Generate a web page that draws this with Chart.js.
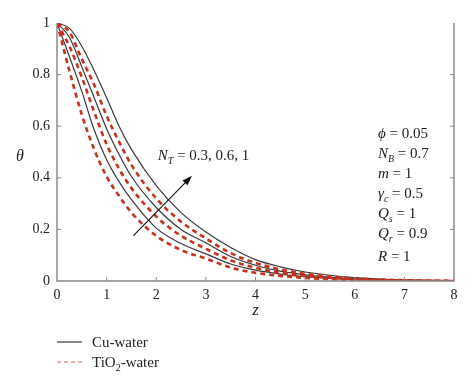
<!doctype html>
<html>
<head>
<title>Temperature profile</title>
<script src="https://cdn.jsdelivr.net/npm/chart.js@4.4.0/dist/chart.umd.min.js"></script>
<style>body{margin:0;background:#fff}</style>
</head>
<body>
<canvas id="chart" width="474" height="387"></canvas>
<script>
// values, theta vs z
const zVals  = [0, 0.25, 0.5, 0.75, 1, 1.25, 1.5, 2, 2.5, 3, 3.5, 4, 4.5, 5, 6, 7, 8];
const cuNt03  = [1, 0.87, 0.735, 0.585, 0.47, 0.385, 0.315, 0.205, 0.145, 0.105, 0.066, 0.042, 0.027, 0.017, 0.006, 0.002, 0];
const cuNt06  = [1, 0.945, 0.83, 0.71, 0.59, 0.49, 0.405, 0.285, 0.2, 0.148, 0.095, 0.061, 0.038, 0.024, 0.008, 0.002, 0];
const cuNt1   = [1, 0.98, 0.91, 0.815, 0.71, 0.6, 0.51, 0.37, 0.265, 0.19, 0.13, 0.083, 0.055, 0.035, 0.013, 0.004, 0];
const tiNt03  = [1, 0.815, 0.645, 0.51, 0.405, 0.33, 0.265, 0.175, 0.12, 0.087, 0.052, 0.032, 0.02, 0.012, 0.004, 0.001, 0];
const tiNt06  = [1, 0.91, 0.79, 0.655, 0.53, 0.435, 0.36, 0.25, 0.175, 0.125, 0.08, 0.051, 0.032, 0.02, 0.007, 0.002, 0];
const tiNt1   = [1, 0.965, 0.86, 0.76, 0.64, 0.54, 0.45, 0.32, 0.23, 0.165, 0.108, 0.07, 0.045, 0.028, 0.01, 0.003, 0];

const seriesNames = ['Cu-water', 'TiO2-water'];
const ntLabel = [['N', 1], ['T', 1, 1], [' = 0.3, 0.6, 1']];
const params = [
  [['ϕ', 1], [' = 0.05']],
  [['N', 1], ['B', 1, 1], [' = 0.7']],
  [['m', 1], [' = 1']],
  [['γ', 1], ['c', 1, 1], [' = 0.5']],
  [['Q', 1], ['s', 1, 1], [' = 1']],
  [['Q', 1], ['r', 1, 1], [' = 0.9']],
  [['R', 1], [' = 1']]
];

const SERIF = '"Liberation Serif", "DejaVu Serif", serif';
const RED = '#c5301f';
const DARK = '#3a3a3a';
const AXIS = '#8a8a8a';

function pts(ys) { return zVals.map((z, i) => ({x: z, y: ys[i]})); }
function solid(ys) {
  return {data: pts(ys), borderColor: DARK, borderWidth: 1.2, pointRadius: 0, cubicInterpolationMode: 'monotone', fill: false};
}
function dashed(ys) {
  return {data: pts(ys), borderColor: RED, borderWidth: 2.6, borderDash: [5, 4], pointRadius: 0, cubicInterpolationMode: 'monotone', fill: false};
}

function rich(ctx, parts, x, y, size) {
  parts.forEach(p => {
    const fs = p[2] ? Math.round(size * 0.68) : size;
    ctx.font = (p[1] ? 'italic ' : '') + fs + 'px ' + SERIF;
    ctx.fillText(p[0], x, p[2] ? y + size * 0.28 : y);
    x += ctx.measureText(p[0]).width;
  });
}

const extras = {
  id: 'extras',
  afterDraw(chart) {
    const ctx = chart.ctx, a = chart.chartArea;
    const xs = chart.scales.x, ys = chart.scales.y;
    ctx.save();
    // frame: left, bottom, right (no top)
    ctx.strokeStyle = AXIS; ctx.lineWidth = 1.5;
    ctx.beginPath();
    ctx.moveTo(a.left, a.top); ctx.lineTo(a.left, a.bottom);
    ctx.lineTo(a.right, a.bottom); ctx.lineTo(a.right, a.top);
    ctx.stroke();
    ctx.lineWidth = 1;
    ctx.beginPath();
    for (let v = 1; v < 8; v++) {
      const px = xs.getPixelForValue(v);
      ctx.moveTo(px, a.bottom); ctx.lineTo(px, a.bottom - 4);
    }
    for (let v = 0.2; v < 0.95; v += 0.2) {
      const py = ys.getPixelForValue(v);
      ctx.moveTo(a.left, py); ctx.lineTo(a.left + 4, py);
      ctx.moveTo(a.right, py); ctx.lineTo(a.right - 4, py);
    }
    ctx.stroke();

    // axis titles
    ctx.fillStyle = '#222';
    ctx.textBaseline = 'alphabetic';
    ctx.font = 'italic 16px ' + SERIF;
    ctx.textAlign = 'center';
    ctx.fillText('θ', 20, ys.getPixelForValue(0.5) + 9);
    ctx.fillText('z', (a.left + a.right) / 2, 315);
    ctx.textAlign = 'left';

    // arrow for N_T
    const x0 = xs.getPixelForValue(1.54), y0 = ys.getPixelForValue(0.176);
    const x1 = xs.getPixelForValue(2.72), y1 = ys.getPixelForValue(0.408);
    const ang = Math.atan2(y1 - y0, x1 - x0);
    ctx.strokeStyle = '#111'; ctx.fillStyle = '#111'; ctx.lineWidth = 1.1;
    ctx.beginPath(); ctx.moveTo(x0, y0);
    ctx.lineTo(x1 - 6 * Math.cos(ang), y1 - 6 * Math.sin(ang)); ctx.stroke();
    ctx.beginPath();
    ctx.moveTo(x1, y1);
    ctx.lineTo(x1 - 10 * Math.cos(ang) + 3.5 * Math.sin(ang), y1 - 10 * Math.sin(ang) - 3.5 * Math.cos(ang));
    ctx.lineTo(x1 - 10 * Math.cos(ang) - 3.5 * Math.sin(ang), y1 - 10 * Math.sin(ang) + 3.5 * Math.cos(ang));
    ctx.closePath(); ctx.fill();

    ctx.fillStyle = '#222';
    rich(ctx, ntLabel, xs.getPixelForValue(2.03), ys.getPixelForValue(0.47), 15);

    // parameter block
    const base = [138, 158, 178, 198, 218, 238, 261];
    params.forEach((p, i) => rich(ctx, p, 378, base[i], 15));

    // legend
    const ly = [342, 362];
    ctx.lineWidth = 1.2;
    ctx.strokeStyle = DARK; ctx.setLineDash([]);
    ctx.beginPath(); ctx.moveTo(57, ly[0]); ctx.lineTo(82, ly[0]); ctx.stroke();
    ctx.strokeStyle = '#d06a5a'; ctx.setLineDash([4, 3]);
    ctx.beginPath(); ctx.moveTo(57, ly[1]); ctx.lineTo(83, ly[1]); ctx.stroke();
    ctx.setLineDash([]);
    ctx.fillStyle = '#222';
    rich(ctx, [[seriesNames[0]]], 92, ly[0] + 5, 15);
    rich(ctx, [['TiO'], ['2', 0, 1], ['-water']], 92, ly[1] + 5, 15);
    ctx.restore();
  }
};

new Chart(document.getElementById('chart'), {
  type: 'line',
  data: {
    datasets: [dashed(tiNt03), dashed(tiNt06), dashed(tiNt1), solid(cuNt03), solid(cuNt06), solid(cuNt1)]
  },
  options: {
    responsive: false,
    animation: false,
    layout: {padding: {left: 0, top: 23, right: 20, bottom: 66}},
    plugins: {legend: {display: false}, tooltip: {enabled: false}},
    scales: {
      x: {
        type: 'linear', min: 0, max: 8,
        ticks: {stepSize: 1, color: '#222', padding: 6, font: {family: SERIF, size: 14}},
        grid: {display: false, drawTicks: false},
        border: {display: false},
        afterFit(s) { s.height = 40; }
      },
      y: {
        min: 0, max: 1,
        ticks: {stepSize: 0.2, color: '#222', padding: 7, font: {family: SERIF, size: 14},
                callback: v => String(Math.round(v * 10) / 10)},
        grid: {display: false, drawTicks: false},
        border: {display: false},
        afterFit(s) { s.width = 57; }
      }
    }
  },
  plugins: [extras]
});
</script>
</body>
</html>
